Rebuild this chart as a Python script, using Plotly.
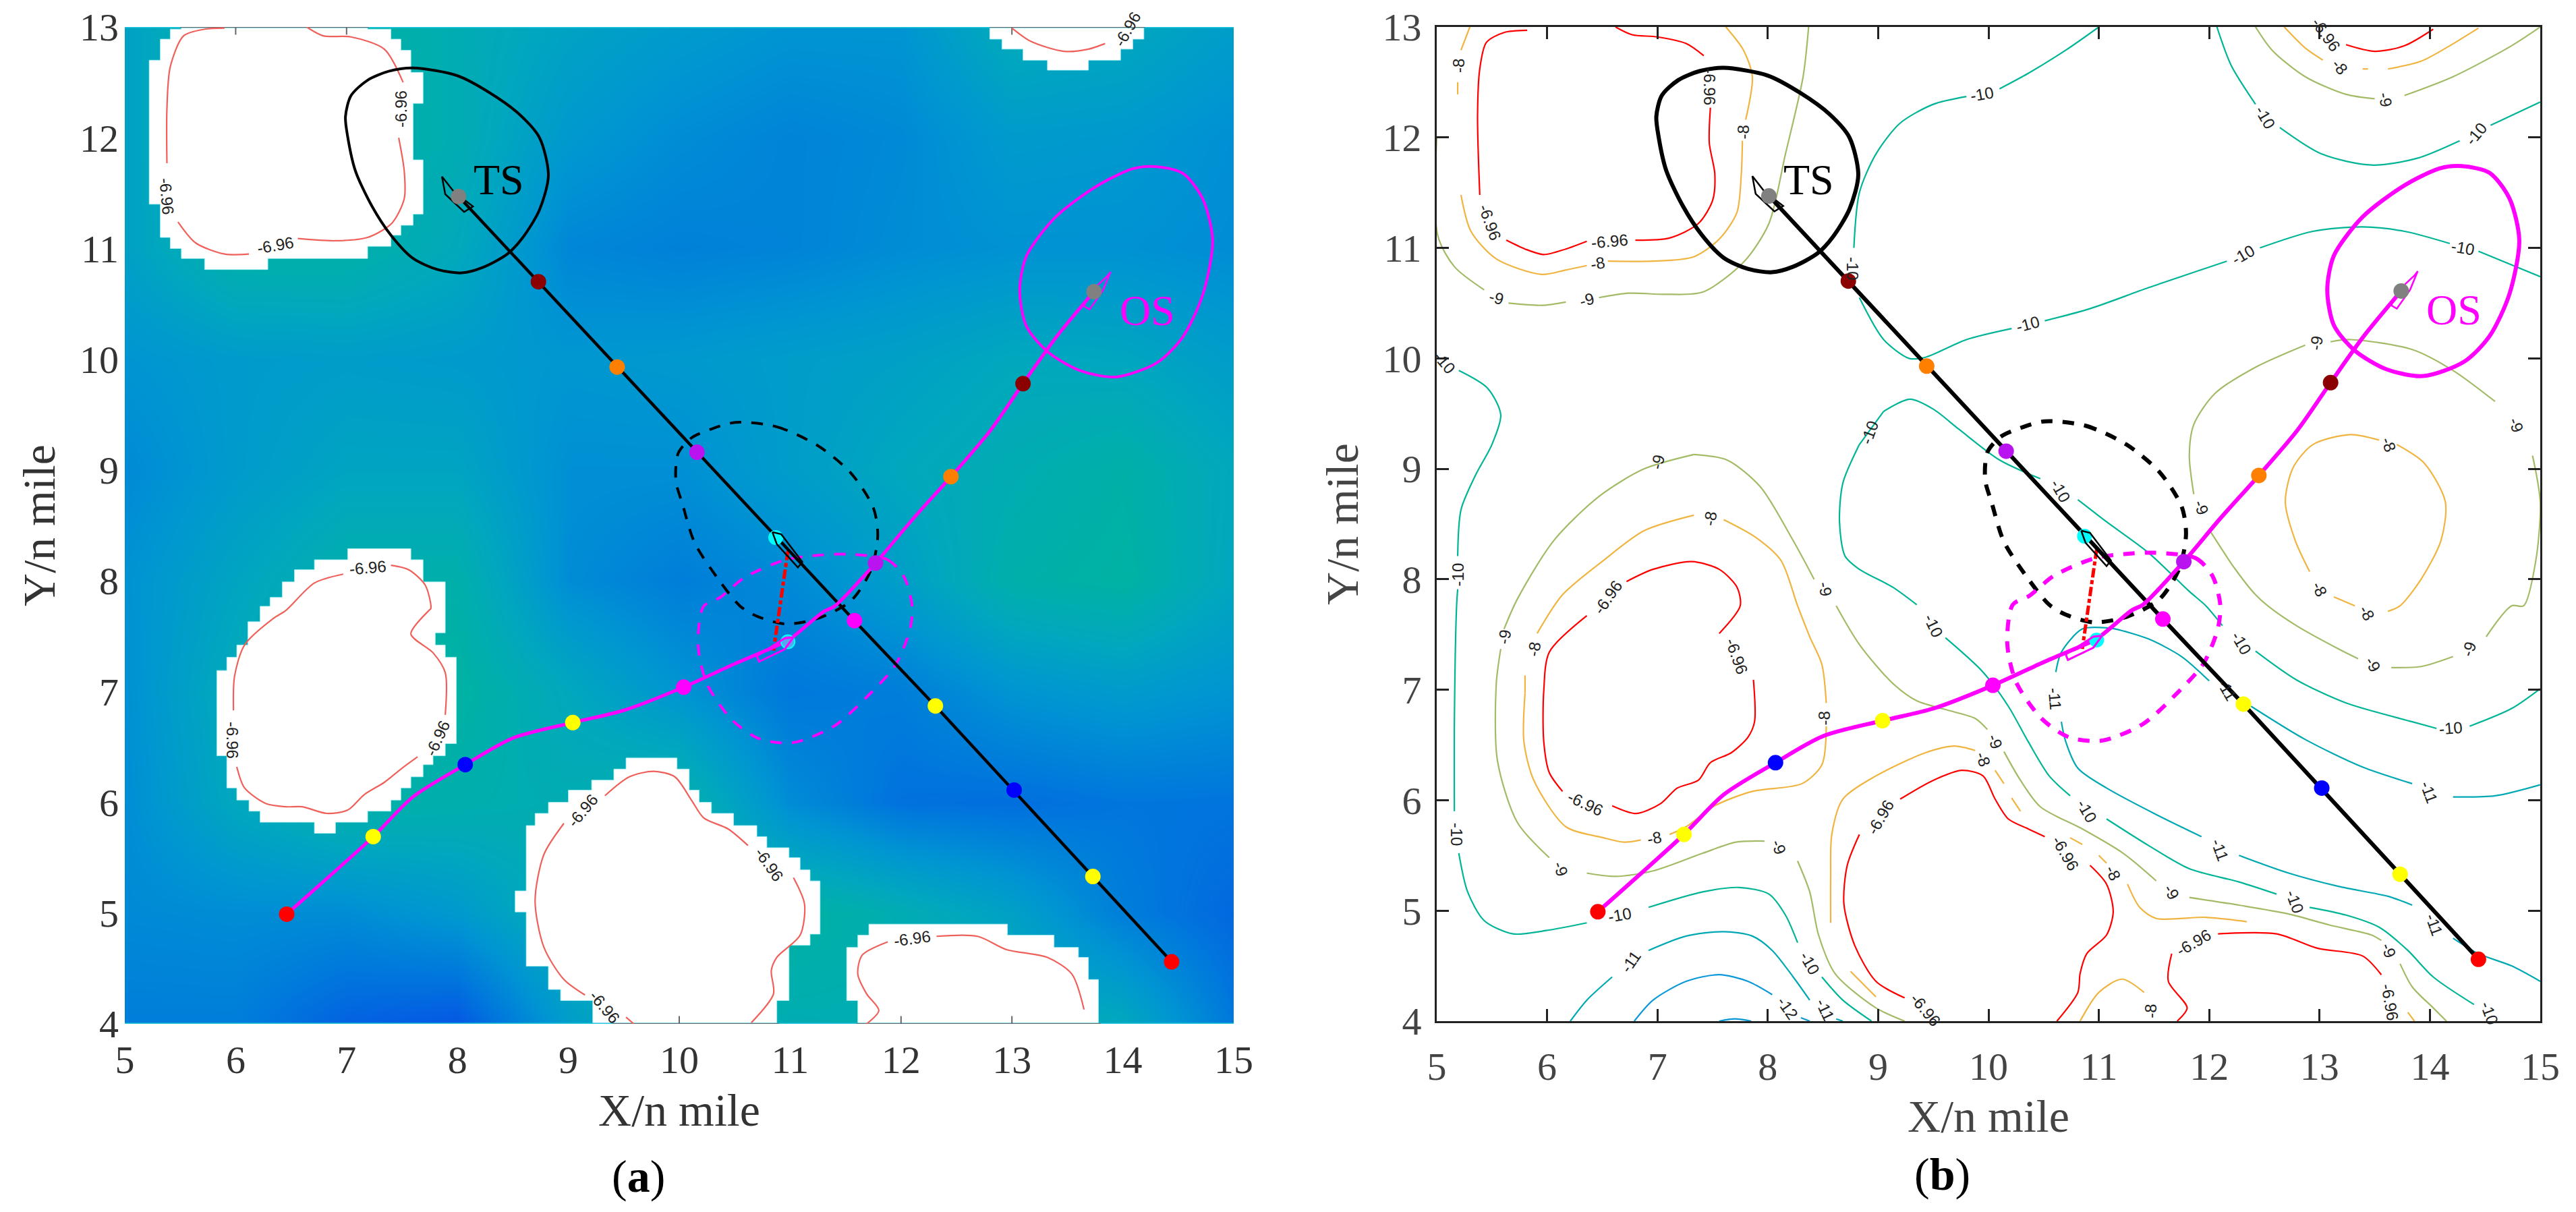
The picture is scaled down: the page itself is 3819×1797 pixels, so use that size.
import plotly.graph_objects as go

# ---------- data ----------
GRID_X = [5, 6, 7, 8, 9, 10, 11, 12, 13, 14, 15]
GRID_Y = [4, 5, 6, 7, 8, 9, 10, 11, 12, 13]
FIELD = [
    [-10.8, -10.8, -11.7, -12.0, -9.6, -8.2, -8.6, -8.5, -8.5, -9.0, -11.0],
    [-10.4, -10.3, -10.3, -9.8, -8.6, -8.0, -8.0, -8.6, -9.4, -10.8, -11.5],
    [-10.3, -9.0, -8.2, -8.4, -8.6, -8.2, -10.3, -11.2, -11.3, -11.05, -11.1],
    [-10.2, -8.8, -8.0, -8.0, -9.0, -10.0, -11.0, -10.8, -10.0, -9.7, -10.0],
    [-10.1, -9.2, -8.3, -8.3, -10.3, -10.8, -10.4, -9.5, -8.3, -8.0, -9.1],
    [-10.4, -9.7, -9.2, -9.2, -10.2, -10.2, -9.6, -9.0, -8.6, -8.2, -9.0],
    [-10.0, -9.7, -9.6, -9.7, -9.9, -9.8, -9.6, -9.4, -9.0, -9.1, -9.6],
    [-9.4, -8.2, -8.2, -8.9, -10.5, -10.7, -10.6, -10.3, -10.1, -10.1, -10.3],
    [-9.4, -8.0, -8.0, -8.6, -9.8, -10.3, -10.6, -10.4, -9.7, -9.8, -10.2],
    [-9.4, -8.0, -8.0, -8.6, -9.3, -9.7, -10.0, -10.0, -8.8, -9.0, -9.6],
]
FIELD_COLORS = [[0.0, "#0558e4"], [0.2, "#0078dc"], [0.4, "#0095d2"], [0.6, "#00a8bd"], [0.8, "#00b2a2"], [1.0, "#2cb98e"]]
FIELD_MIN, FIELD_MAX = -12.0, -7.0

BLOBS = [
    [(5.51,13),(7.19,13),(7.19,12.98),(7.40,12.98),(7.40,12.89),(7.49,12.89),(7.49,12.79),(7.58,12.79),(7.58,12.59),(7.69,12.59),(7.69,12.31),(7.60,12.31),(7.60,11.80),(7.69,11.80),(7.69,11.31),(7.60,11.31),(7.60,11.21),(7.49,11.21),(7.49,11.12),(7.40,11.12),(7.40,11.02),(7.19,11.02),(7.19,10.91),(6.29,10.91),(6.29,10.81),(5.72,10.81),(5.72,10.91),(5.51,10.91),(5.51,11.0),(5.41,11.0),(5.41,11.1),(5.32,11.1),(5.32,11.4),(5.22,11.4),(5.22,12.7),(5.32,12.7),(5.32,12.89),(5.41,12.89),(5.41,12.98),(5.51,12.98)],
    [(12.80,13),(14.19,13),(14.19,12.89),(14.09,12.89),(14.09,12.80),(13.98,12.80),(13.98,12.70),(13.69,12.70),(13.69,12.61),(13.32,12.61),(13.32,12.70),(13.10,12.70),(13.10,12.80),(12.91,12.80),(12.91,12.89),(12.80,12.89)],
    [(7.01,8.29),(7.58,8.29),(7.58,8.19),(7.69,8.19),(7.69,7.99),(7.89,7.99),(7.89,7.53),(7.80,7.53),(7.80,7.42),(7.89,7.42),(7.89,7.31),(7.99,7.31),(7.99,6.53),(7.89,6.53),(7.89,6.42),(7.78,6.42),(7.78,6.34),(7.69,6.34),(7.69,6.23),(7.58,6.23),(7.58,6.13),(7.49,6.13),(7.49,6.02),(7.40,6.02),(7.40,5.92),(7.19,5.92),(7.19,5.82),(6.90,5.82),(6.90,5.72),(6.71,5.72),(6.71,5.82),(6.22,5.82),(6.22,5.92),(6.12,5.92),(6.12,6.02),(6.01,6.02),(6.01,6.13),(5.92,6.13),(5.92,6.42),(5.83,6.42),(5.83,7.19),(5.92,7.19),(5.92,7.31),(6.01,7.31),(6.01,7.42),(6.11,7.42),(6.11,7.63),(6.22,7.63),(6.22,7.77),(6.31,7.77),(6.31,7.85),(6.42,7.85),(6.42,7.99),(6.53,7.99),(6.53,8.10),(6.71,8.10),(6.71,8.19),(7.01,8.19)],
    [(9.52,6.40),(9.98,6.40),(9.98,6.30),(10.09,6.30),(10.09,6.11),(10.18,6.11),(10.18,6.0),(10.29,6.0),(10.29,5.90),(10.49,5.90),(10.49,5.79),(10.70,5.79),(10.70,5.69),(10.79,5.69),(10.79,5.59),(10.99,5.59),(10.99,5.50),(11.09,5.50),(11.09,5.39),(11.18,5.39),(11.18,5.29),(11.27,5.29),(11.27,4.81),(11.18,4.81),(11.18,4.71),(10.99,4.71),(10.99,4.21),(10.88,4.21),(10.88,4),(9.22,4),(9.22,4.21),(8.93,4.21),(8.93,4.31),(8.82,4.31),(8.82,4.52),(8.62,4.52),(8.62,5.01),(8.52,5.01),(8.52,5.20),(8.62,5.20),(8.62,5.79),(8.70,5.79),(8.70,5.90),(8.82,5.90),(8.82,6.0),(9.0,6.0),(9.0,6.11),(9.21,6.11),(9.21,6.20),(9.41,6.20),(9.41,6.30),(9.52,6.30)],
    [(11.71,4.90),(12.96,4.90),(12.96,4.80),(13.38,4.80),(13.38,4.69),(13.60,4.69),(13.60,4.60),(13.69,4.60),(13.69,4.40),(13.78,4.40),(13.78,4),(11.61,4),(11.61,4.21),(11.51,4.21),(11.51,4.69),(11.61,4.69),(11.61,4.80),(11.71,4.80)],
]

EDGE_LINES = [[(5,13),(15,13)], [(5,4),(15,4)]]
PATCH_AXIS = [
    [(5.5,13),(7.2,13)], [(6,13),(6,12.93)], [(7,13),(7,12.93)],
    [(12.8,13),(14.2,13)], [(13,13),(13,12.93)],
    [(9.4,4),(10.9,4)], [(10,4),(10,4.07)],
    [(11.6,4),(13.8,4)], [(12,4),(12,4.07)], [(13,4),(13,4.07)],
]

A_RED = [
    [(5.90,12.99),(5.72,12.98),(5.53,12.92),(5.41,12.64),(5.38,12.26),(5.38,11.77)],
    [(5.48,11.24),(5.64,11.05),(5.90,10.95),(6.12,10.95)],
    [(6.56,11.09),(6.90,11.07),(7.19,11.10),(7.41,11.23),(7.52,11.45),(7.52,11.70),(7.47,12.0)],
    [(7.51,12.50),(7.34,12.80),(7.04,12.91),(6.79,12.92),(6.64,13)],
    [(13.0,12.99),(13.17,12.87),(13.47,12.78),(13.69,12.80),(13.84,12.85)],
    [(6.97,8.06),(6.71,7.98),(6.45,7.73),(6.34,7.66),(6.08,7.42),(5.99,7.14),(5.98,6.83)],
    [(6.01,6.32),(6.08,6.13),(6.27,5.99),(6.45,5.96),(6.60,5.96),(6.82,5.90),(7.01,5.93),(7.16,6.07),(7.34,6.18),(7.49,6.30),(7.64,6.41)],
    [(7.89,6.79),(7.89,7.17),(7.78,7.35),(7.58,7.52),(7.74,7.73),(7.76,7.75),(7.71,7.96),(7.56,8.10),(7.40,8.14)],
    [(9.33,6.06),(9.55,6.23),(9.77,6.28),(9.96,6.23),(10.11,6.02),(10.22,5.86),(10.44,5.76),(10.62,5.61)],
    [(11.03,5.32),(11.13,5.08),(11.09,4.80),(10.88,4.60),(10.83,4.48),(10.85,4.27),(10.65,4.01)],
    [(8.96,5.81),(8.78,5.53),(8.70,5.11),(8.78,4.69),(8.96,4.40),(9.15,4.26)],
    [(9.52,4.06),(9.59,4)],
    [(11.69,4),(11.80,4.12),(11.69,4.27),(11.61,4.45),(11.65,4.62),(11.88,4.74)],
    [(12.32,4.79),(12.69,4.79),(12.95,4.67),(13.32,4.60),(13.54,4.45),(13.65,4.13)],
]
A_LABELS = [
    (5.38,11.47,"-6.96",85),(6.36,11.03,"-6.96",-10),(7.49,12.26,"-6.96",-90),(14.04,12.98,"-6.96",-60),
    (7.19,8.12,"-6.96",-5),(5.97,6.56,"-6.96",90),(7.82,6.58,"-6.96",-65),(9.13,5.93,"-6.96",-50),
    (10.81,5.44,"-6.96",55),(9.33,4.15,"-6.96",50),(12.10,4.77,"-6.96",-8),
]

B_RED = [
    [(5.82,12.97),(5.61,12.95),(5.45,12.86),(5.39,12.62),(5.37,12.20),(5.39,11.48)],
    [(5.63,11.07),(5.80,10.99),(5.97,10.94),(6.17,10.99),(6.36,11.06)],
    [(6.80,11.07),(7.11,11.09),(7.37,11.22),(7.50,11.43),(7.52,11.67),(7.47,11.95),(7.48,12.27)],
    [(7.42,12.74),(7.26,12.85),(7.0,12.91),(6.77,12.93),(6.62,13)],
    [(13.24,12.84),(13.50,12.78),(13.77,12.83),(14.03,12.98)],
    [(6.72,7.98),(6.96,8.09),(7.31,8.16),(7.56,8.09),(7.72,7.93),(7.75,7.76),(7.56,7.51)],
    [(7.87,7.09),(7.88,6.71),(7.82,6.57),(7.67,6.43),(7.48,6.34),(7.37,6.18),(7.18,6.11),(7.03,5.97),(6.81,5.88),(6.59,5.95)],
    [(6.14,6.08),(6.02,6.25),(5.97,6.53),(5.97,6.99),(6.02,7.34),(6.36,7.67)],
    [(9.20,6.01),(9.50,6.18),(9.76,6.27),(9.95,6.22),(10.06,6.01),(10.18,5.83),(10.36,5.74),(10.51,5.67)],
    [(10.92,5.41),(11.07,5.24),(11.13,4.99),(11.07,4.78),(10.89,4.61),(10.83,4.43),(10.81,4.26),(10.62,4)],
    [(8.83,5.69),(8.72,5.41),(8.69,5.06),(8.79,4.68),(8.98,4.36),(9.24,4.21)],
    [(11.71,4),(11.80,4.12),(11.63,4.36),(11.66,4.61)],
    [(12.08,4.79),(12.61,4.79),(12.98,4.66),(13.39,4.59),(13.56,4.42)],
]
B_ORANGE = [
    [(5.30,13),(5.22,12.79)],
    [(5.19,12.50),(5.19,12.39)],
    [(5.22,11.48),(5.31,11.15),(5.54,10.90),(5.95,10.76),(6.17,10.80),(6.36,10.84)],
    [(6.55,10.88),(6.96,10.88),(7.33,10.92),(7.56,11.08),(7.72,11.32),(7.76,11.67),(7.77,11.97)],
    [(7.80,12.16),(7.86,12.55),(7.78,12.79),(7.62,13)],
    [(12.68,13),(12.87,12.81),(13.03,12.70)],
    [(13.39,12.62),(13.44,12.62)],
    [(13.62,12.62),(13.92,12.69),(14.18,12.83),(14.44,12.99)],
    [(13.54,9.26),(13.28,9.31),(12.94,9.22),(12.76,9.01),(12.69,8.70),(12.78,8.35),(12.91,8.07)],
    [(13.13,7.84),(13.32,7.76)],
    [(13.62,7.71),(13.73,7.76),(13.92,8.0),(14.10,8.35),(14.14,8.70),(13.95,9.05),(13.70,9.22)],
    [(7.33,8.58),(6.88,8.44),(6.51,8.17),(6.14,7.86),(5.91,7.51)],
    [(5.80,7.13),(5.80,6.97)],
    [(5.80,6.97),(5.79,6.53),(5.88,6.18),(6.17,5.76),(6.51,5.66),(6.70,5.62),(6.85,5.64)],
    [(7.11,5.69),(7.26,5.76),(7.52,5.95),(7.86,6.08),(8.31,6.15),(8.49,6.32),(8.53,6.67)],
    [(8.53,6.88),(8.49,7.23),(8.38,7.48),(8.27,7.76),(8.12,8.17),(7.89,8.38),(7.60,8.54)],
    [(8.57,4.89),(8.57,5.31),(8.58,5.69),(8.68,6.01),(8.98,6.22),(9.43,6.43),(9.69,6.49),(9.88,6.45)],
    [(10.06,6.27),(10.14,6.15)],
    [(10.21,6.02),(10.29,5.90)],
    [(10.74,5.66),(10.85,5.60)],
    [(11.0,5.50),(11.07,5.43)],
    [(11.26,5.24),(11.37,5.03),(11.52,4.93),(11.97,4.94),(12.34,4.90)],
    [(8.75,4.45),(8.98,4.22)],
    [(10.83,4),(11.0,4.26),(11.21,4.38),(11.41,4.26)],
    [(13.80,4.08),(13.86,4)],
]
B_OLIVE = [
    [(8.37,13),(8.32,12.55),(8.16,11.85),(8.01,11.22),(7.78,10.87),(7.41,10.60),(7.07,10.58),(6.74,10.59),(6.47,10.55)],
    [(6.17,10.51),(5.95,10.48),(5.65,10.50)],
    [(5.43,10.62),(5.16,10.83),(5.01,11.11),(5.0,12.0)],
    [(12.42,13),(12.57,12.79),(12.87,12.55),(13.24,12.39),(13.50,12.35)],
    [(13.77,12.38),(14.21,12.55),(14.74,12.83),(15,13)],
    [(12.87,10.12),(12.42,9.92),(12.05,9.68),(11.86,9.40),(11.82,9.12),(11.86,8.77)],
    [(12.0,8.45),(12.23,8.10),(12.42,7.86),(12.53,7.76),(12.79,7.58),(13.17,7.37),(13.35,7.28)],
    [(13.65,7.20),(13.92,7.21),(14.21,7.30)],
    [(14.51,7.48),(14.74,7.76),(14.85,7.76),(14.96,8.17),(15,8.70),(14.93,9.12)],
    [(14.59,9.61),(14.21,9.89),(13.84,10.08),(13.28,10.17),(13.10,10.15)],
    [(7.33,9.13),(6.88,9.0),(6.47,8.75),(6.06,8.35),(5.73,7.82),(5.61,7.55)],
    [(5.58,7.37),(5.54,7.06),(5.55,6.36),(5.73,5.80),(6.02,5.48)],
    [(6.36,5.34),(6.62,5.31),(6.96,5.36),(7.41,5.52),(7.71,5.62),(7.97,5.63)],
    [(8.27,5.45),(8.38,5.17),(8.46,4.78),(8.61,4.43),(8.98,4.12),(9.24,4)],
    [(7.33,9.13),(7.63,9.08),(7.93,8.84),(8.23,8.35),(8.42,8.0)],
    [(8.62,7.76),(8.83,7.41),(9.13,7.06),(9.35,6.90),(9.65,6.81),(9.88,6.74),(9.99,6.64)],
    [(10.14,6.44),(10.29,6.18),(10.47,5.94),(10.85,5.74),(11.22,5.52),(11.52,5.27)],
    [(11.82,5.12),(12.27,5.05),(12.72,4.97),(13.09,4.87),(13.47,4.78),(13.56,4.73)],
    [(13.73,4.52),(13.84,4.31),(14.03,4.12),(14.15,4)],
]
B_TEAL = [
    [(11.0,13),(10.70,12.79),(10.36,12.58),(10.10,12.44)],
    [(9.80,12.37),(9.50,12.30),(9.20,12.13),(8.98,11.85),(8.83,11.50),(8.78,11.0)],
    [(8.83,10.55),(9.05,10.17),(9.28,10.0),(9.43,10.01),(9.80,10.17),(10.21,10.27)],
    [(10.51,10.34),(10.92,10.45),(11.45,10.64),(12.16,10.88)],
    [(12.46,11.0),(12.94,11.15),(13.39,11.19),(13.77,11.15),(14.18,11.04)],
    [(14.44,10.97),(15,10.74)],
    [(12.07,13),(12.20,12.65),(12.42,12.30)],
    [(12.64,12.09),(13.02,11.85),(13.47,11.75),(13.88,11.81),(14.27,11.97)],
    [(14.55,12.11),(15,12.32)],
    [(5.20,9.89),(5.46,9.73),(5.58,9.49),(5.50,9.22),(5.35,8.94),(5.22,8.63),(5.19,8.21)],
    [(5.19,7.91),(5.18,7.76),(5.16,6.71),(5.16,5.90)],
    [(5.20,5.52),(5.28,5.17),(5.43,4.91),(5.69,4.79),(5.99,4.82),(6.36,4.89)],
    [(6.92,5.03),(7.41,5.17),(7.74,5.21),(8.01,5.15),(8.16,4.96),(8.27,4.71)],
    [(8.49,4.40),(8.68,4.19),(8.94,4)],
    [(9.05,9.52),(8.83,9.22)],
    [(8.83,9.22),(8.68,8.87),(8.65,8.52),(8.70,8.21),(8.83,8.09),(9.13,7.93),(9.35,7.77)],
    [(9.61,7.47),(9.95,7.16),(10.18,6.85),(10.36,6.53),(10.55,6.22),(10.74,6.04)],
    [(11.07,5.83),(11.45,5.59),(11.82,5.38),(12.27,5.26),(12.61,5.15)],
    [(12.91,5.03),(13.24,4.96),(13.54,4.85),(13.80,4.64),(14.03,4.40),(14.40,4.15)],
    [(9.05,9.52),(9.29,9.63),(9.50,9.54),(9.73,9.36),(10.10,9.08),(10.47,8.91)],
    [(10.81,8.72),(11.07,8.52),(11.45,8.24),(11.82,7.89),(11.97,7.76),(12.12,7.58)],
    [(12.42,7.35),(12.79,7.09),(13.24,6.88),(13.84,6.71),(14.06,6.65)],
    [(14.36,6.67),(14.74,6.83),(15,7.01)],
]
B_CYAN = [
    [(6.21,4),(6.36,4.19),(6.59,4.40)],
    [(6.92,4.64),(7.26,4.77),(7.60,4.81),(7.86,4.77),(8.04,4.64),(8.23,4.40),(8.38,4.19)],
    [(8.62,4.02),(8.68,4)],
    [(11.07,7.56),(10.85,7.55),(10.66,7.34),(10.61,7.16)],
    [(10.66,6.71),(10.70,6.53),(10.81,6.29),(11.07,6.11),(11.52,5.87),(11.93,5.67)],
    [(12.27,5.50),(12.72,5.34),(13.17,5.22),(13.62,5.13),(13.84,5.05)],
    [(14.21,4.75),(14.44,4.61),(14.74,4.50),(15,4.36)],
    [(11.07,7.56),(11.15,7.55),(11.45,7.46),(11.75,7.30),(12.0,7.08)],
    [(12.38,6.85),(12.87,6.55),(13.39,6.30),(13.84,6.15)],
    [(14.21,6.03),(14.59,6.04),(15,6.14)],
]
B_BLUE = [
    [(6.79,4),(6.96,4.19),(7.26,4.36),(7.56,4.42),(7.82,4.36),(8.04,4.24)],
    [(8.30,4.03),(8.38,4)],
    [(7.56,4.0),(7.7,4.02),(7.85,4.0)],
]
B_LABELS = [
    (5.48,11.23,"-6.96",70),(6.57,11.06,"-6.96",-5),(7.47,12.46,"-6.96",90),(13.06,12.93,"-6.96",55),
    (6.55,7.84,"-6.96",-55),(7.72,7.30,"-6.96",70),(6.35,5.97,"-6.96",25),(9.02,5.85,"-6.96",-60),
    (10.70,5.52,"-6.96",60),(9.43,4.10,"-6.96",50),(11.86,4.71,"-6.96",-30),(13.64,4.17,"-6.96",80),
    (5.20,12.65,"-8",-90),(6.46,10.86,"-8",-10),(7.78,12.05,"-8",-90),(13.18,12.64,"-8",50),(13.63,9.22,"-8",70),
    (13.0,7.91,"-8",65),(13.43,7.70,"-8",60),(7.48,8.55,"-8",-80),(5.88,7.37,"-8",-80),(6.97,5.66,"-8",-10),
    (8.51,6.74,"-8",-90),(9.95,6.37,"-8",70),(11.13,5.34,"-8",65),(11.47,4.09,"-8",-90),
    (6.36,10.53,"-9",-15),(5.54,10.55,"-9",15),(13.60,12.34,"-9",80),(12.97,10.14,"-9",-80),(11.93,8.65,"-9",70),
    (13.48,7.23,"-9",60),(14.35,7.37,"-9",-70),(14.78,9.40,"-9",70),(7.0,9.06,"-9",-75),(5.61,7.48,"-9",-80),
    (6.12,5.38,"-9",70),(8.10,5.58,"-9",70),(8.52,7.91,"-9",80),(10.06,6.53,"-9",70),(11.66,5.17,"-9",60),(13.63,4.64,"-9",70),
    (9.94,12.39,"-10",-10),(8.77,10.81,"-10",90),(10.36,10.31,"-10",-15),(12.31,10.94,"-10",-30),(14.30,11.0,"-10",10),
    (12.51,12.18,"-10",60),(14.42,12.03,"-10",-50),(5.07,9.96,"-10",50),(5.19,8.04,"-10",-90),(5.18,5.69,"-10",90),
    (6.66,4.96,"-10",-10),(8.38,4.52,"-10",60),(8.92,9.33,"-10",-70),(9.50,7.58,"-10",65),(10.89,5.90,"-10",60),
    (12.78,5.08,"-10",70),(14.54,4.07,"-10",70),(10.65,8.80,"-10",60),(12.29,7.42,"-10",60),(14.19,6.65,"-10",-5),
    (6.76,4.54,"-11",-55),(8.52,4.10,"-11",65),(10.60,6.92,"-11",85),(12.10,5.55,"-11",70),(14.04,4.87,"-11",70),
    (12.16,7.0,"-11",60),(13.99,6.07,"-11",70),(8.18,4.12,"-12",55),
]

TS_X = [14.44, 13.73, 13.02, 12.31, 11.58, 10.16, 9.44, 8.73, 8.01]
TS_Y = [4.56, 5.33, 6.11, 6.87, 7.64, 9.16, 9.93, 10.70, 11.47]
OS_X = [6.46, 7.24, 8.07, 9.04, 10.04, 11.77, 12.45, 13.10, 13.74]
OS_Y = [4.99, 5.69, 6.34, 6.72, 7.04, 8.16, 8.94, 9.78, 10.61]
POINT_COLORS = ["#ff0000", "#ffff00", "#0000ff", "#ffff00", "#ff00ff", "#b914f0", "#ff8000", "#8b0000", "#808080"]
OS_PATH_X = [6.46, 7.24, 7.6, 8.07, 8.5, 9.04, 9.5, 10.04, 10.5, 10.85, 10.98, 11.3, 11.4, 11.77, 12.1, 12.45, 12.8, 13.10, 13.4, 13.74]
OS_PATH_Y = [4.99, 5.69, 6.05, 6.34, 6.58, 6.72, 6.83, 7.04, 7.25, 7.40, 7.46, 7.72, 7.77, 8.16, 8.55, 8.94, 9.35, 9.78, 10.2, 10.61]

TS_RING = [(7.60,12.63),(8.00,12.56),(8.30,12.40),(8.56,12.21),(8.74,12.0),(8.82,11.66),(8.74,11.35),(8.59,11.10),(8.45,10.95),(8.23,10.83),(8.04,10.78),(7.82,10.81),(7.60,10.91),(7.40,11.12),(7.23,11.38),(7.08,11.70),(7.01,12.01),(6.99,12.19),(7.04,12.38),(7.19,12.52),(7.38,12.60),(7.60,12.63)]
OS_RING = [(14.29,11.74),(14.54,11.68),(14.72,11.45),(14.81,11.07),(14.72,10.58),(14.54,10.20),(14.31,9.97),(13.94,9.84),(13.61,9.90),(13.32,10.07),(13.13,10.30),(13.07,10.62),(13.13,10.93),(13.39,11.28),(13.76,11.56),(14.09,11.72),(14.29,11.74)]
TS_DASH = [(10.51,9.43),(10.88,9.39),(11.25,9.22),(11.55,8.97),(11.75,8.66),(11.79,8.41),(11.73,8.10),(11.55,7.82),(11.25,7.66),(10.96,7.61),(10.70,7.68),(10.55,7.77),(10.37,7.99),(10.14,8.34),(10.03,8.69),(9.97,8.90),(9.99,9.15),(10.11,9.29),(10.29,9.37),(10.51,9.43)]
OS_DASH = [(11.51,8.24),(11.88,8.19),(12.03,8.03),(12.10,7.77),(12.08,7.56),(11.95,7.24),(11.69,6.95),(11.40,6.69),(11.03,6.54),(10.73,6.57),(10.48,6.74),(10.25,7.07),(10.17,7.42),(10.22,7.77),(10.37,7.85),(10.59,8.03),(10.96,8.19),(11.25,8.23),(11.51,8.24)]
CPA_LINE = [(10.98,8.27),(10.91,7.77),(10.85,7.37)]
TS_HULL_A = [(7.86,11.65),(7.97,11.51),(8.14,11.38),(8.06,11.33),(7.89,11.49),(7.86,11.65)]
TS_HULL_B = [(10.84,8.44),(10.92,8.42),(11.11,8.17),(11.07,8.12),(10.88,8.33),(10.84,8.44)]
OS_HULL_A = [(13.89,10.79),(13.82,10.62),(13.70,10.45),(13.65,10.48),(13.70,10.60),(13.86,10.75),(13.89,10.79)]
OS_HULL_B = [(11.03,7.49),(10.95,7.48),(10.70,7.32),(10.72,7.27),(10.95,7.38),(11.03,7.49)]
TS_SHIP = (10.87, 8.39)
OS_SHIP = (10.98, 7.45)

TICKS_X = list(range(5, 16))
TICKS_Y = list(range(4, 14))
X_TITLE = "X/n mile"
Y_TITLE = "Y/n mile"
# ------------------------------------------------

W, H = 3819, 1797
BODY = 8  # the page's own margin around the plot
SERIF = "Liberation Serif"
SANS = "Liberation Sans"


def px_x(v):
    return (v - BODY) / W


def px_y(v):
    return 1 - (v - BODY) / H


def xy(segments):
    xs, ys = [], []
    for seg in segments:
        for p in seg:
            xs.append(p[0]); ys.append(p[1])
        xs.append(None); ys.append(None)
    return xs, ys


fig = go.Figure()


def line(segments, color, width, ax, dash=None, shape="spline", clip=True):
    xs, ys = xy(segments)
    fig.add_trace(go.Scatter(x=xs, y=ys, mode="lines", xaxis=ax[0], yaxis=ax[1], cliponaxis=clip,
                             line=dict(color=color, width=width, dash=dash, shape=shape, smoothing=0.8),
                             hoverinfo="skip", showlegend=False))


def labels(items, ax):
    for x, y, t, a in items:
        fig.add_annotation(x=x, y=y, text=t, textangle=a, xref=ax[0], yref=ax[1], showarrow=False,
                           xanchor="center", yanchor="middle",
                           font=dict(family=SANS, size=24, color="#222222"))


def tracks(ax, w_ring, w_ts, w_os, os_dot):
    line([TS_RING], "#000000", w_ring, ax)
    line([OS_RING], "#ff00ff", w_ring, ax)
    line([TS_DASH], "#000000", w_ring, ax, dash="17px,15px")
    line([OS_DASH], "#ff00ff", w_ring, ax, dash="17px,15px")
    line([CPA_LINE], "#ff0000", 5, ax, dash="14px,4px,6px,4px", shape="linear")
    line([list(zip(TS_X, TS_Y))], "#000000", w_ts, ax, shape="linear")
    line([list(zip(OS_PATH_X, OS_PATH_Y))], "#ff00ff", w_os, ax)
    fig.add_trace(go.Scatter(x=[TS_SHIP[0], OS_SHIP[0]], y=[TS_SHIP[1], OS_SHIP[1]], mode="markers",
                             xaxis=ax[0], yaxis=ax[1], hoverinfo="skip", showlegend=False,
                             marker=dict(color=["#00ffff", os_dot], size=20, line=dict(color="#00ffff", width=2))))
    line([TS_HULL_A, TS_HULL_B], "#000000", 2.5, ax, shape="linear")
    line([OS_HULL_A], "#ff00ff", 2.5, ax, shape="linear")
    line([OS_HULL_B], "#ff00ff", 3, ax, shape="linear")
    fig.add_trace(go.Scatter(x=TS_X, y=TS_Y, mode="markers", xaxis=ax[0], yaxis=ax[1], hoverinfo="skip", showlegend=False,
                             marker=dict(color=POINT_COLORS, size=23, line=dict(width=0))))
    fig.add_trace(go.Scatter(x=OS_X, y=OS_Y, mode="markers", xaxis=ax[0], yaxis=ax[1], hoverinfo="skip", showlegend=False,
                             marker=dict(color=POINT_COLORS, size=23, line=dict(width=0))))
    fig.add_annotation(x=8.37, y=11.62, text="TS", xref=ax[0], yref=ax[1], showarrow=False,
                       xanchor="center", yanchor="middle", font=dict(family=SERIF, size=64, color="#000000"))
    fig.add_annotation(x=14.22, y=10.44, text="OS", xref=ax[0], yref=ax[1], showarrow=False,
                       xanchor="center", yanchor="middle", font=dict(family=SERIF, size=64, color="#ff00ff"))


# panel (a)
A = ("x", "y")
fig.add_trace(go.Heatmap(x=GRID_X, y=GRID_Y, z=FIELD, zsmooth="best", zmin=FIELD_MIN, zmax=FIELD_MAX,
                         colorscale=FIELD_COLORS, showscale=False, hoverinfo="skip", xaxis="x", yaxis="y"))
for blob in BLOBS:
    xs = [p[0] for p in blob] + [blob[0][0]]
    ys = [p[1] for p in blob] + [blob[0][1]]
    fig.add_trace(go.Scatter(x=xs, y=ys, mode="lines", fill="toself", fillcolor="#ffffff", xaxis="x", yaxis="y",
                             line=dict(color="rgba(170,240,245,0.8)", width=1), hoverinfo="skip", showlegend=False))
line(EDGE_LINES, "#1cc4dc", 3, A, shape="linear", clip=False)
line(PATCH_AXIS, "#666666", 2, A, shape="linear", clip=False)
line(A_RED, "#f0605a", 2.2, A)
labels(A_LABELS, A)
tracks(A, 4, 4.5, 5, "#55a8f0")

# panel (b)
B = ("x2", "y2")
line(B_BLUE, "#0a98d8", 2.2, B)
line(B_CYAN, "#00a8b4", 2.2, B)
line(B_TEAL, "#00b596", 2.2, B)
line(B_OLIVE, "#a3bb66", 2.2, B)
line(B_ORANGE, "#f0b440", 2.2, B)
line(B_RED, "#ff0000", 2.2, B)
labels(B_LABELS, B)
tracks(B, 6, 6, 6, "#00ffff")


def xaxis(x0, x1, color, boxed):
    d = dict(domain=[px_x(x0), px_x(x1)], range=[5, 15], tickmode="array", tickvals=TICKS_X, ticktext=[str(t) for t in TICKS_X],
             automargin=False, showgrid=False, zeroline=False, tickfont=dict(family=SERIF, size=58, color=color), ticklabelstandoff=14,
             title=dict(text=X_TITLE, font=dict(family=SERIF, size=68, color=color), standoff=18))
    if boxed:
        d.update(showline=True, linecolor="#222222", linewidth=3, mirror="ticks", ticks="inside", ticklen=18, tickwidth=3, tickcolor="#222222")
    else:
        d.update(showline=False, ticks="")
    return d


def yaxis(y0, y1, color, boxed):
    d = dict(domain=[px_y(y1), px_y(y0)], range=[4, 13], tickmode="array", tickvals=TICKS_Y, ticktext=[str(t) for t in TICKS_Y],
             automargin=False, showgrid=False, zeroline=False, tickfont=dict(family=SERIF, size=58, color=color), ticklabelstandoff=8,
             title=dict(text=Y_TITLE, font=dict(family=SERIF, size=68, color=color), standoff=14))
    if boxed:
        d.update(showline=True, linecolor="#222222", linewidth=3, mirror="ticks", ticks="inside", ticklen=18, tickwidth=3, tickcolor="#222222")
    else:
        d.update(showline=False, ticks="")
    return d


fig.update_layout(
    width=W, height=H, margin=dict(l=0, r=0, t=0, b=0), autosize=False,
    paper_bgcolor="#ffffff", plot_bgcolor="#ffffff", showlegend=False,
    xaxis=xaxis(185, 1829, "#333333", False),
    yaxis=dict(yaxis(40, 1518, "#333333", False), anchor="x"),
    xaxis2=dict(xaxis(2130, 3766, "#444444", True), anchor="y2"),
    yaxis2=dict(yaxis(40, 1514, "#444444", True), anchor="x2"),
)
fig.add_annotation(x=px_x(946), y=px_y(1744), xref="paper", yref="paper", text="(<b>a</b>)", showarrow=False,
                   xanchor="center", yanchor="middle", font=dict(family=SERIF, size=68, color="#000000"))
fig.add_annotation(x=px_x(2879), y=px_y(1741), xref="paper", yref="paper", text="(<b>b</b>)", showarrow=False,
                   xanchor="center", yanchor="middle", font=dict(family=SERIF, size=68, color="#000000"))

fig.write_html("out.html")
